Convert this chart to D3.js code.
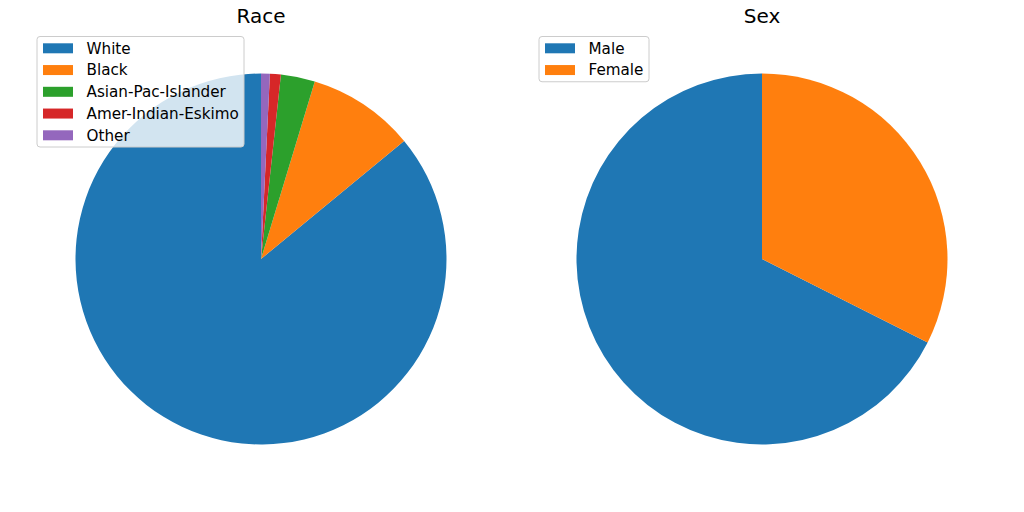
<!DOCTYPE html>
<html>
<head>
<meta charset="utf-8">
<script src="https://cdn.jsdelivr.net/npm/d3@7"></script>
<style>
  html, body { margin: 0; padding: 0; background: #fff; }
  svg { display: block; font-family: "DejaVu Sans", sans-serif; }
</style>
</head>
<body>
<div id="vis"></div>
<script>
// data
const raceLabels = ["White", "Black", "Asian-Pac-Islander", "Amer-Indian-Eskimo", "Other"];
const raceCounts = [25933, 2817, 895, 286, 231];
const sexLabels = ["Male", "Female"];
const sexCounts = [20380, 9782];

const colors = ["#1f77b4", "#ff7f0e", "#2ca02c", "#d62728", "#9467bd"];

const width = 1024, height = 512;

const svg = d3.select("#vis").append("svg")
  .attr("width", width)
  .attr("height", height);

// matplotlib style: start at 12 o'clock, go counterclockwise
function drawPie(labels, values, opts) {
  const g = svg.append("g");

  const total = d3.sum(values);
  const angle = d3.scaleLinear().domain([0, total]).range([0, -2 * Math.PI]);

  let acc = 0;
  const slices = values.map((v, i) => {
    const s = { label: labels[i], start: angle(acc), end: angle(acc + v), i };
    acc += v;
    return s;
  });

  const arc = d3.arc().innerRadius(0).outerRadius(opts.r);

  g.append("g")
    .attr("transform", `translate(${opts.cx},${opts.cy})`)
    .selectAll("path")
    .data(slices)
    .join("path")
    .attr("d", d => arc({ startAngle: d.end, endAngle: d.start }))
    .attr("fill", d => colors[d.i]);

  // title
  g.append("text")
    .attr("x", opts.cx)
    .attr("y", 23)
    .attr("text-anchor", "middle")
    .attr("font-size", 20)
    .attr("fill", "#000")
    .text(opts.title);

  // legend
  const rowH = 21.75;
  const lg = g.append("g").attr("transform", `translate(${opts.lx},${opts.ly})`);
  lg.append("rect")
    .attr("x", 0.5).attr("y", 0.5)
    .attr("width", opts.lw).attr("height", 12 + (labels.length - 1) * rowH + 11.5)
    .attr("rx", 3)
    .attr("fill", "#fff").attr("fill-opacity", 0.8)
    .attr("stroke", "#ccc");

  const rows = lg.selectAll("g.row")
    .data(labels)
    .join("g")
    .attr("class", "row")
    .attr("transform", (d, i) => `translate(0,${12.3 + i * rowH})`);

  rows.append("rect")
    .attr("x", 6.5).attr("y", -5)
    .attr("width", 30).attr("height", 10)
    .attr("fill", (d, i) => colors[i]);

  rows.append("text")
    .attr("x", 50).attr("y", 5.2)
    .attr("font-size", 15.2)
    .attr("fill", "#000")
    .text(d => d);
}

drawPie(raceLabels, raceCounts, { cx: 261, cy: 259, r: 185.5, title: "Race", lx: 36.5, ly: 36, lw: 207 });
drawPie(sexLabels, sexCounts, { cx: 762, cy: 259, r: 185.5, title: "Sex", lx: 538.5, ly: 36, lw: 110 });
</script>
</body>
</html>
